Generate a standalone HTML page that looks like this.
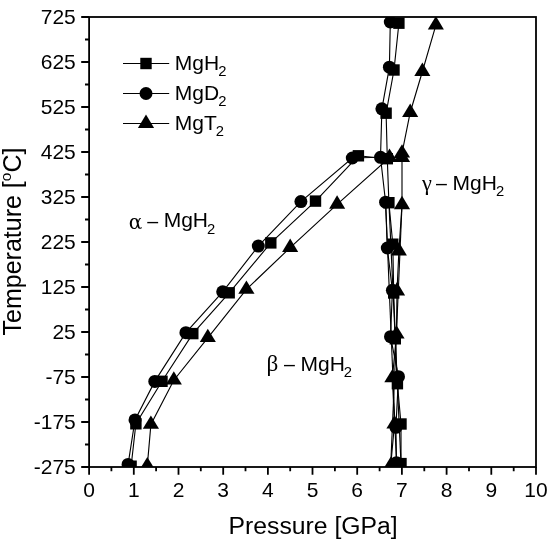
<!DOCTYPE html>
<html lang="en">
<head>
<meta charset="utf-8">
<title>Phase diagram of MgH2, MgD2 and MgT2</title>
<style>
html,body{margin:0;padding:0;background:#fff;}
body{width:550px;height:550px;overflow:hidden;}
svg{display:block;}
text{font-family:"Liberation Sans",sans-serif;fill:#000;}
.tick{font-size:21px;}
.title{font-size:24.75px;}
.lab{font-size:21px;}
.sub{font-size:14.8px;}
.sup{font-size:15.5px;}
.ytitle{font-size:25px;}
.dash{font-size:19.6px;}
.ln{fill:none;stroke:#000;stroke-width:1.12;}
.ax{fill:none;stroke:#000;stroke-width:1.8;}
</style>
</head>
<body>
<svg width="550" height="550" viewBox="0 0 550 550">
<rect width="550" height="550" fill="#fff"/>
<defs><clipPath id="plot"><rect x="89.1" y="17" width="446.9" height="450"/></clipPath></defs>

<g clip-path="url(#plot)">
<g class="ln">
<polyline points="131.1,466.2 135.9,423.8 162,381.3 192.8,333.6 229.2,292.8 270.8,242.9 315.5,201.1 358.4,155.8 387.3,158.7"/>
<polyline points="401,463.6 401,424 397.4,383.7 395.3,338.8 393.7,293 392.8,244.2 388.9,202.7 387.3,158.7"/>
<polyline points="387.3,158.7 386.1,113.2 394,70 398.9,23.2"/>
<polyline points="388.9,202.7 401,463.6"/>
<polyline points="128.1,464.4 135,419.9 154.8,381.4 185.9,332.7 222.7,291.8 258.3,246.1 300.9,201.6 352.3,158 380.5,157.3"/>
<polyline points="396.5,462.7 395.9,427.3 398.5,376.7 390.5,336.7 392.4,290.3 387.3,248 385.6,202.2 380.5,157.3"/>
<polyline points="380.5,157.3 381.9,108.8 389.4,67.2 390.3,22"/>
<polyline points="385.6,202.2 396.5,462.7"/>
<polyline points="147.3,465.9 150.9,424.4 173.8,380.2 207.8,337.8 246.4,289.4 290.2,247.6 337.1,204.3 389.5,157.6 402,157.6"/>
<polyline points="390.7,465.8 394.5,424.2 392.4,377.9 396.5,334.2 397,291.1 398.9,251.1 402,204.8 402,157.6"/>
<polyline points="402,153.2 410.2,112.5 422.4,71.5 435.9,25.1"/>
<polyline points="402,204.8 390.7,465.8"/>
</g>
<g fill="#000">
<rect x="125.4" y="460.5" width="11.4" height="11.4"/>
<rect x="130.2" y="418.1" width="11.4" height="11.4"/>
<rect x="156.3" y="375.6" width="11.4" height="11.4"/>
<rect x="187.1" y="327.9" width="11.4" height="11.4"/>
<rect x="223.5" y="287.1" width="11.4" height="11.4"/>
<rect x="265.1" y="237.2" width="11.4" height="11.4"/>
<rect x="309.8" y="195.4" width="11.4" height="11.4"/>
<rect x="352.7" y="150.1" width="11.4" height="11.4"/>
<rect x="381.6" y="153" width="11.4" height="11.4"/>
<rect x="395.3" y="457.9" width="11.4" height="11.4"/>
<rect x="395.3" y="418.3" width="11.4" height="11.4"/>
<rect x="391.7" y="378" width="11.4" height="11.4"/>
<rect x="389.6" y="333.1" width="11.4" height="11.4"/>
<rect x="388" y="287.3" width="11.4" height="11.4"/>
<rect x="387.1" y="238.5" width="11.4" height="11.4"/>
<rect x="383.2" y="197" width="11.4" height="11.4"/>
<rect x="380.4" y="107.5" width="11.4" height="11.4"/>
<rect x="388.3" y="64.3" width="11.4" height="11.4"/>
<rect x="393.2" y="17.5" width="11.4" height="11.4"/>
<circle cx="128.1" cy="464.4" r="6.5"/>
<circle cx="135" cy="419.9" r="6.5"/>
<circle cx="154.8" cy="381.4" r="6.5"/>
<circle cx="185.9" cy="332.7" r="6.5"/>
<circle cx="222.7" cy="291.8" r="6.5"/>
<circle cx="258.3" cy="246.1" r="6.5"/>
<circle cx="300.9" cy="201.6" r="6.5"/>
<circle cx="352.3" cy="158" r="6.5"/>
<circle cx="380.5" cy="157.3" r="6.5"/>
<circle cx="396.5" cy="462.7" r="6.5"/>
<circle cx="395.9" cy="427.3" r="6.5"/>
<circle cx="398.5" cy="376.7" r="6.5"/>
<circle cx="390.5" cy="336.7" r="6.5"/>
<circle cx="392.4" cy="290.3" r="6.5"/>
<circle cx="387.3" cy="248" r="6.5"/>
<circle cx="385.6" cy="202.2" r="6.5"/>
<circle cx="381.9" cy="108.8" r="6.5"/>
<circle cx="389.4" cy="67.2" r="6.5"/>
<circle cx="390.3" cy="22" r="6.5"/>
<polygon points="147.3,456.9 155.4,470.2 139.2,470.2"/>
<polygon points="150.9,415.4 159,428.8 142.8,428.8"/>
<polygon points="173.8,371.2 181.9,384.6 165.8,384.6"/>
<polygon points="207.8,328.8 215.9,342.1 199.8,342.1"/>
<polygon points="246.4,280.4 254.5,293.8 238.3,293.8"/>
<polygon points="290.2,238.6 298.2,252 282.1,252"/>
<polygon points="337.1,195.3 345.2,208.8 329.1,208.8"/>
<polygon points="389.5,148.6 397.6,162 381.4,162"/>
<polygon points="402,148.6 410.1,162 393.9,162"/>
<polygon points="390.7,456.8 398.8,470.1 382.6,470.1"/>
<polygon points="394.5,415.2 402.6,428.6 386.4,428.6"/>
<polygon points="392.4,368.9 400.4,382.2 384.3,382.2"/>
<polygon points="396.5,325.2 404.6,338.6 388.4,338.6"/>
<polygon points="397,282.1 405.1,295.4 388.9,295.4"/>
<polygon points="398.9,242.1 406.9,255.5 390.8,255.5"/>
<polygon points="402,195.8 410.1,209.2 393.9,209.2"/>
<polygon points="402,144.2 410.1,157.6 393.9,157.6"/>
<polygon points="410.2,103.5 418.2,117 402.1,117"/>
<polygon points="422.4,62.5 430.4,75.9 414.3,75.9"/>
<polygon points="435.9,16.1 443.9,29.5 427.8,29.5"/>
</g>
</g>
<rect class="ax" x="89.1" y="17" width="446.9" height="450"/>
<path class="ax" d="M89.1 467v7.8M111.4 467v4.2M133.8 467v7.8M156.1 467v4.2M178.5 467v7.8M200.8 467v4.2M223.2 467v7.8M245.5 467v4.2M267.9 467v7.8M290.2 467v4.2M312.5 467v7.8M334.9 467v4.2M357.2 467v7.8M379.6 467v4.2M401.9 467v7.8M424.3 467v4.2M446.6 467v7.8M469 467v4.2M491.3 467v7.8M513.7 467v4.2M536 467v7.8M89.1 17h-7.9M89.1 39.5h-4.1M89.1 62h-7.9M89.1 84.5h-4.1M89.1 107h-7.9M89.1 129.5h-4.1M89.1 152h-7.9M89.1 174.5h-4.1M89.1 197h-7.9M89.1 219.5h-4.1M89.1 242h-7.9M89.1 264.5h-4.1M89.1 287h-7.9M89.1 309.5h-4.1M89.1 332h-7.9M89.1 354.5h-4.1M89.1 377h-7.9M89.1 399.5h-4.1M89.1 422h-7.9M89.1 444.5h-4.1M89.1 467h-7.9"/>
<text class="tick" transform="translate(89.1 496.6)" text-anchor="middle">0</text>
<text class="tick" transform="translate(133.8 496.6)" text-anchor="middle">1</text>
<text class="tick" transform="translate(178.5 496.6)" text-anchor="middle">2</text>
<text class="tick" transform="translate(223.2 496.6)" text-anchor="middle">3</text>
<text class="tick" transform="translate(267.9 496.6)" text-anchor="middle">4</text>
<text class="tick" transform="translate(312.5 496.6)" text-anchor="middle">5</text>
<text class="tick" transform="translate(357.2 496.6)" text-anchor="middle">6</text>
<text class="tick" transform="translate(401.9 496.6)" text-anchor="middle">7</text>
<text class="tick" transform="translate(446.6 496.6)" text-anchor="middle">8</text>
<text class="tick" transform="translate(491.3 496.6)" text-anchor="middle">9</text>
<text class="tick" transform="translate(536 496.6)" text-anchor="middle">10</text>
<text class="tick" transform="translate(75.8 23.9)" text-anchor="end">725</text>
<text class="tick" transform="translate(75.8 68.9)" text-anchor="end">625</text>
<text class="tick" transform="translate(75.8 113.9)" text-anchor="end">525</text>
<text class="tick" transform="translate(75.8 158.9)" text-anchor="end">425</text>
<text class="tick" transform="translate(75.8 203.9)" text-anchor="end">325</text>
<text class="tick" transform="translate(75.8 248.9)" text-anchor="end">225</text>
<text class="tick" transform="translate(75.8 293.9)" text-anchor="end">125</text>
<text class="tick" transform="translate(75.8 338.9)" text-anchor="end">25</text>
<text class="tick" transform="translate(75.8 383.9)" text-anchor="end">-75</text>
<text class="tick" transform="translate(75.8 428.9)" text-anchor="end">-175</text>
<text class="tick" transform="translate(75.8 473.9)" text-anchor="end">-275</text>
<text class="title" transform="translate(313.1 533.9)" text-anchor="middle">Pressure [GPa]</text>
<text class="ytitle" transform="translate(21.2 241.5) rotate(-90)" text-anchor="middle">Temperature [<tspan class="sup" dy="-10.4">o</tspan><tspan dy="10.4">C]</tspan></text>
<path class="ln" d="M123 63.5H169.2"/>
<rect x="140.3" y="57.8" width="11.4" height="11.4"/>
<text class="lab" transform="translate(174.8 70.1)">MgH<tspan class="sub" dx="-1" dy="6.1">2</tspan></text>
<path class="ln" d="M123 93.5H169.2"/>
<circle cx="146" cy="93.5" r="6.5"/>
<text class="lab" transform="translate(174.8 100.1)">MgD<tspan class="sub" dx="-1" dy="6.1">2</tspan></text>
<path class="ln" d="M123 123.5H169.2"/>
<polygon points="146,114.5 154.1,127.9 137.9,127.9"/>
<text class="lab" transform="translate(174.8 130.2)">MgT<tspan class="sub" dx="-1" dy="6.1">2</tspan></text>
<text style="font-family:'DejaVu Serif','Liberation Serif',serif;font-size:20px" transform="translate(128.8 228.7)">α</text>
<text class="dash" transform="translate(147.2 227.7)">–</text>
<text class="lab" transform="translate(163.7 227.4)">MgH<tspan class="sub" dx="-1" dy="6.1">2</tspan></text>
<text style="font-family:'Liberation Serif','DejaVu Serif',serif;font-size:21.5px" transform="translate(422 189.7) scale(1.04 1)">γ</text>
<text class="dash" transform="translate(436.1 189.7)">–</text>
<text class="lab" transform="translate(452.6 190)">MgH<tspan class="sub" dx="-1" dy="6.1">2</tspan></text>
<text style="font-family:'Liberation Serif','DejaVu Serif',serif;font-size:22.3px" transform="translate(266.4 370.8) scale(1.04 1)">β</text>
<text class="dash" transform="translate(284.1 370.9)">–</text>
<text class="lab" transform="translate(300.5 371)">MgH<tspan class="sub" dx="-1" dy="6.1">2</tspan></text>
</svg>
</body>
</html>
